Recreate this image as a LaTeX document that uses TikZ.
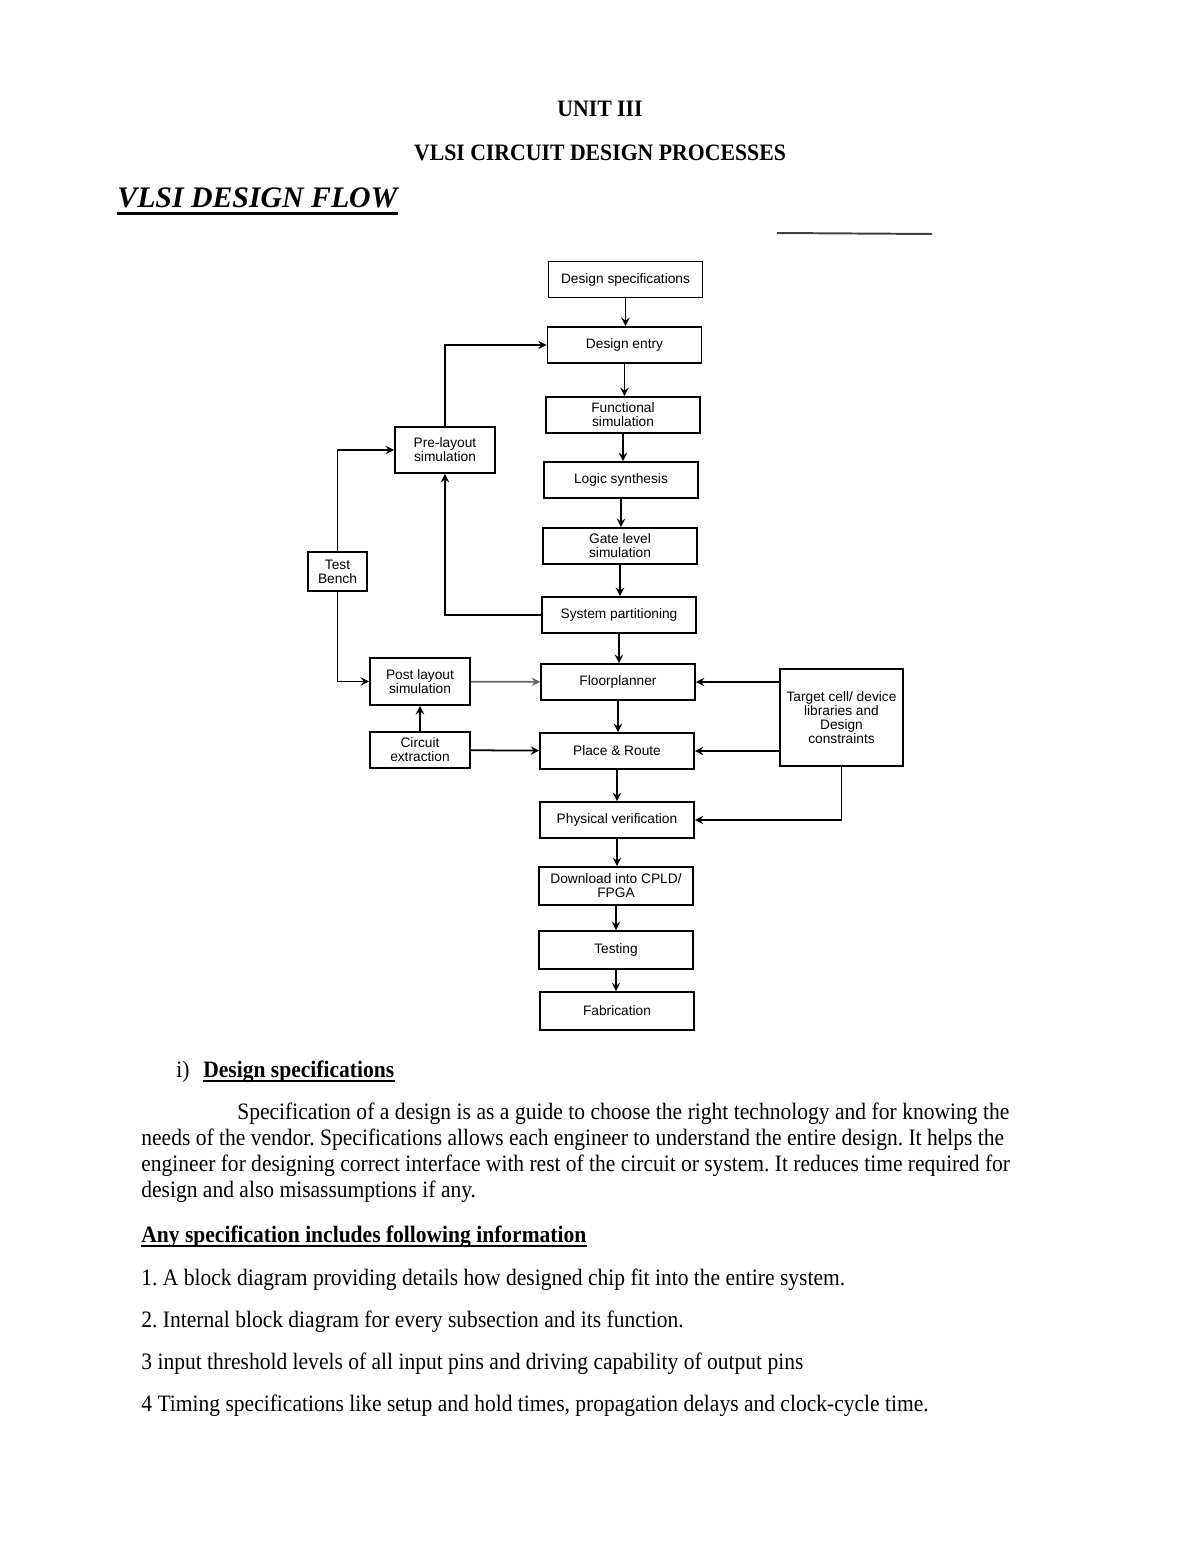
\documentclass[tikz,border=0pt]{standalone}
\usepackage{fontspec}
\setmainfont{Liberation Serif}[FakeStretch=0.915]
\setsansfont{Liberation Sans}
\newfontfamily\titlefont{Liberation Serif}[FakeStretch=0.925]
\newfontfamily\flowfont{Liberation Serif}
\frenchspacing

\tikzset{
  stage/.style={draw, line width=0.9pt, font=\sffamily\fontsize{7}{7.2}\selectfont, align=center,
    minimum width=78.5pt, minimum height=18.4pt, inner sep=1pt},
  sidestage/.style={stage, minimum width=51pt},
  textline/.style={anchor=base west, inner sep=0pt, font=\fontsize{12}{14}\selectfont},
  boldline/.style={textline, font=\bfseries\fontsize{12}{14}\selectfont},
  heading/.style={anchor=base, inner sep=0pt, font=\titlefont\bfseries\fontsize{12}{14}\selectfont},
  flow/.style={-stealth, line width=0.9pt},
}

\begin{document}
\begin{tikzpicture}[x=0.51pt, y=-0.51pt]
  \useasboundingbox (0,0) rectangle (1200,1553);

  \node[heading] (unit) at (600,117) {UNIT III};
  \node[heading] (processes) at (600,161) {VLSI CIRCUIT DESIGN PROCESSES};
  \node[anchor=base west, inner sep=0pt, font=\flowfont\bfseries\itshape\fontsize{15.2}{18}\selectfont]
    (flowtitle) at (117,208) {VLSI DESIGN FLOW};
  \draw[line width=1.5pt] ([yshift=-3pt]flowtitle.base west) -- ([yshift=-3pt]flowtitle.base east);
  \draw[black!75, line width=1pt] (777,233) -- (932,234);

  % flow of stages
  \node[stage] (spec)  at (625.5,279.5) {Design specifications};
  \node[stage] (entry) at (624.5,345) {Design entry};
  \node[stage] (func)  at (623,415) {Functional\\simulation};
  \node[stage] (logic) at (621,480) {Logic synthesis};
  \node[stage] (gate)  at (620,546) {Gate level\\simulation};
  \node[stage] (part)  at (619,615) {System partitioning};
  \node[stage] (floor) at (618,682) {Floorplanner};
  \node[stage] (place) at (617,751) {Place \& Route};
  \node[stage] (phys)  at (617,820) {Physical verification};
  \node[stage, minimum height=19.4pt] (down)    at (616,886) {Download into CPLD/\\FPGA};
  \node[stage, minimum height=19.4pt] (testing) at (616,950) {Testing};
  \node[stage, minimum height=19.4pt] (fab)     at (617,1011) {Fabrication};

  \node[sidestage, minimum height=23.5pt] (pre)  at (445,450) {Pre-layout\\simulation};
  \node[stage, minimum width=30pt, minimum height=20pt] (bench) at (337.5,571.5) {Test\\Bench};
  \node[sidestage, minimum height=24pt] (post) at (420,681.5) {Post layout\\simulation};
  \node[sidestage] (extr) at (420,750) {Circuit\\extraction};
  \node[stage, minimum width=62.7pt, minimum height=49.5pt] (target) at (841.5,717.5)
    {Target cell/ device\\libraries and\\Design\\constraints};

  \path[flow]
    (spec)    edge (spec |- entry.north)
    (entry)   edge (entry |- func.north)
    (func)    edge (func |- logic.north)
    (logic)   edge (logic |- gate.north)
    (gate)    edge (gate |- part.north)
    (part)    edge (part |- floor.north)
    (floor)   edge (floor |- place.north)
    (place)   edge (place |- phys.north)
    (phys)    edge (phys |- down.north)
    (down)    edge (down |- testing.north)
    (testing) edge (testing |- fab.north)

    (extr) edge (post)
           edge (place)
    (post) edge [black!60] (floor);

  \draw[flow] (bench) |- (pre);
  \draw[flow] (pre) |- (entry);
  \draw[flow] (part) -| (pre);
  \draw[flow] (bench) |- (post);
  \draw[flow] (target.west |- floor) -- (floor);
  \draw[flow] (target.west |- place) -- (place);
  \draw[flow] (target) |- (phys);

  % text below the flow
  \node[textline] (item) at (176,1077) {i)};
  \node[boldline] (dspec) at (203,1077) {Design specifications};
  \draw[line width=0.9pt] ([yshift=-2.2pt]dspec.base west) -- ([yshift=-2.2pt]dspec.base east);

  \node[textline] (par1) at (237,1119)
    {\makebox[393.7pt][s]{Specification of a design is as a guide to choose the right technology and for knowing the}};
  \node[textline] (par2) at (141,1145)
    {\makebox[440pt][s]{needs of the vendor. Specifications allows each engineer to understand the entire design. It helps the}};
  \node[textline] (par3) at (141,1171)
    {\makebox[443pt][s]{engineer for designing correct interface with rest of the circuit or system. It reduces time required for}};
  \node[textline] (par4) at (141,1197) {design and also misassumptions if any.};

  \node[boldline] (anyspec) at (141,1242) {Any specification includes following information};
  \draw[line width=0.9pt] ([yshift=-2.2pt]anyspec.base west) -- ([yshift=-2.2pt]anyspec.base east);

  \node[textline] (pt1) at (141,1285) {1. A block diagram providing details how designed chip fit into the entire system.};
  \node[textline] (pt2) at (141,1327) {2. Internal block diagram for every subsection and its function.};
  \node[textline] (pt3) at (141,1369) {3 input threshold levels of all input pins and driving capability of output pins};
  \node[textline] (pt4) at (141,1411) {4 Timing specifications like setup and hold times, propagation delays and clock-cycle time.};
\end{tikzpicture}
\end{document}
